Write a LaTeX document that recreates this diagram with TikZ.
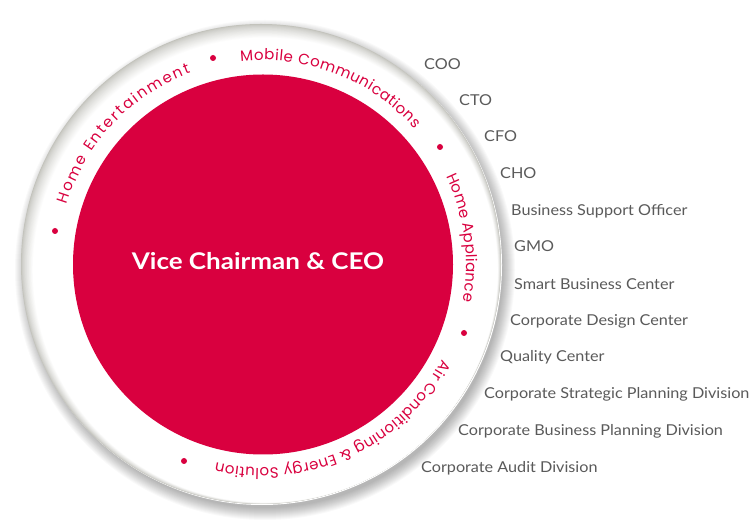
\documentclass[tikz,border=0pt]{standalone}
\usepackage{fontspec}
\setmainfont{Lato}
\newfontfamily\ringfont{Poppins}
\newfontfamily\labfont[FakeStretch=1.08]{Lato}
\newfontfamily\ceofont[FakeStretch=1.13]{Lato}
\usetikzlibrary{decorations.text}
\definecolor{lgred}{HTML}{D9003F}
\definecolor{labgray}{HTML}{5A5A5A}
\definecolor{rimgray}{HTML}{C2C2BB}
\tikzset{
  lab/.style={anchor=base west, inner sep=0pt, font=\labfont\fontsize{15}{17}\selectfont, text=labgray},
  ringtext/.style={decorate, decoration={text along path, text align=fit to path, text color=lgred, text={|\ringfont\fontsize{15}{18}\selectfont|#1}}},
  ringdot/.style={circle, fill=lgred, inner sep=0pt, minimum size=6pt},
  ceostyle/.style={inner sep=0pt, text=white, font=\ceofont\bfseries\fontsize{23}{27}\selectfont},
}
\begin{document}
\begin{tikzpicture}[x=1pt,y=1pt]
\useasboundingbox (0,0) rectangle (754,527);
\fill[white] (0,0) rectangle (754,527);
\coordinate (c) at (262,263);
% drop shadow
\foreach \i in {0,...,12}{
  \fill[black, opacity=0.022] (265,257) circle (250-\i*1.0);
}
% plate with inner rim shading
\fill[white] (262,262) circle (240);
\foreach \k in {0,...,18}{
  \pgfmathsetmacro\m{(\k/18)^0.7*100}
  \fill[white!\m!rimgray] (261+\k*0.24, 263-\k*0.34) circle (240-\k*0.42);
}
% red disc
\fill[lgred] (263,262.5) circle (190);
\node[ceostyle] (ceo) at (258,266) {Vice Chairman \& CEO};
% ring texts
\path[ringtext={Mobile Communications}] (c) ++(96:204) arc[start angle=96, end angle=41.5, radius=204];
\path[ringtext={Home Appliance}] (c) ++(25.5:204) arc[start angle=25.5, end angle=-10.5, radius=204];
\path[ringtext={Air Conditioning {\&} Energy Solution}] (c) ++(-28:204) arc[start angle=-28, end angle=-103, radius=204];
\path[ringtext={Home Entertainment}] (c) ++(163:204) arc[start angle=163, end angle=110.5, radius=204];
% dots
\node[ringdot] (d1) at (213,469) {};
\node[ringdot] (d2) at (440,380) {};
\node[ringdot] (d3) at (464,194) {};
\node[ringdot] (d4) at (184,66) {};
\node[ringdot] (d5) at (55,296) {};
% labels
\node[lab] (coo)  at (424,457) {COO};
\node[lab] (cto)  at (459,421) {CTO};
\node[lab] (cfo)  at (484,385) {CFO};
\node[lab] (cho)  at (500,348) {CHO};
\node[lab] (bso)  at (511,311) {Business Support Officer};
\node[lab] (gmo)  at (514,275) {GMO};
\node[lab] (sbc)  at (514,237) {Smart Business Center};
\node[lab] (cdc)  at (510,201) {Corporate Design Center};
\node[lab] (qc)   at (500,165) {Quality Center};
\node[lab] (cspd) at (484,128) {Corporate Strategic Planning Division};
\node[lab] (cbpd) at (458,91)  {Corporate Business Planning Division};
\node[lab] (cad)  at (421,55)  {Corporate Audit Division};
\end{tikzpicture}
\end{document}
